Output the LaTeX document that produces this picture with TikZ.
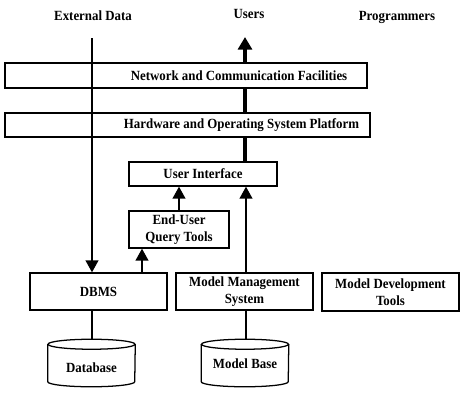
\documentclass[tikz,border=0pt]{standalone}
\usepackage{fontspec}
\setmainfont{Liberation Serif}[FakeStretch=0.92]
\usetikzlibrary{arrows.meta, calc}

\begin{document}
\begin{tikzpicture}
  [
   x=0.75pt, y=-0.75pt, % 以像素为单位, y 轴向下
   every node/.style={font=\bfseries\fontsize{10.5}{12.75}\selectfont, align=center, inner sep=0pt},
   box/.style={draw, line width=0.95pt, fill=white},
   link/.style={line width=1.5pt},
   arr/.style={link, -{Triangle[width=9.5pt,length=9pt]}}
  ]
  \useasboundingbox (0,0) rectangle (467,400);

  % 顶部标签
  \node (extlabel) at (93,16) {External Data};
  \node (userslabel) at (249,14) {Users};
  \node (proglabel) at (397,17) {Programmers};
  \coordinate (ext) at (92,38);
  \coordinate (users) at (245,37);

  % 各个模块
  \node[box, minimum width=111pt, minimum height=18pt] (ui) at (203,174) {User Interface};
  \node[box, minimum width=75pt, minimum height=27.75pt] (eu) at (179,229.5) {End-User\\Query Tools};
  \node[box, minimum width=102.75pt, minimum height=27.75pt] (dbms) at (98.5,291.5) {DBMS};
  \node[box, minimum width=102.75pt, minimum height=27.75pt] (mms) at (244.5,291.5) {Model Management\\System};
  \node[box, minimum width=102.75pt, minimum height=28.5pt] (mdt) at (390.5,292) {Model Development\\Tools};

  % 通向 Users 的粗箭头, 被两层平台遮住
  \draw[line width=3pt, -{Triangle[width=10.5pt,length=9.5pt]}] (ui.north -| users) -- (users);

  % 两层平台
  \node[box, minimum width=271.5pt, minimum height=18.75pt] (net) at (186,75.5) {};
  \node (nettext) at (239,76) {Network and Communication Facilities};
  \node[box, minimum width=273.75pt, minimum height=18pt] (hw) at (187.5,125) {};
  \node (hwtext) at (241.5,125) {Hardware and Operating System Platform};

  % 两个数据库圆柱
  \foreach \name/\cx/\ty/\label in {database/91.5/368/Database, modelbase/245/364/Model Base}
    {
     \node[minimum width=65.25pt, minimum height=35.25pt] (\name) at (\cx,363) {};
     \draw[box]
          ($(\name.north west)+(0,5)$) -- ($(\name.south west)+(0,-5)$)
          arc[start angle=180, end angle=0, x radius=43.5, y radius=5]
          -- ($(\name.north east)+(0,5)$);
     \draw[box] ($(\name.north)+(0,5)$) ellipse [x radius=43.5, y radius=5];
     \node (\name text) at (\cx,\ty) {\label};
    }

  % 连线
  \draw[arr] (142,0 |- dbms.north) -- (142,0 |- eu.south);
  \foreach \x/\from in {179/eu, 246/mms}
    \draw[arr] (\x,0 |- \from.north) -- (\x,0 |- ui.south);
  \draw[link] (ext |- dbms.south) -- (ext |- database.north);
  \draw[link] (246,0 |- mms.south) -- (246,0 |- modelbase.north);
  \draw[arr] (ext) -- (ext |- dbms.north); % 外部数据穿过两层平台
\end{tikzpicture}
\end{document}
